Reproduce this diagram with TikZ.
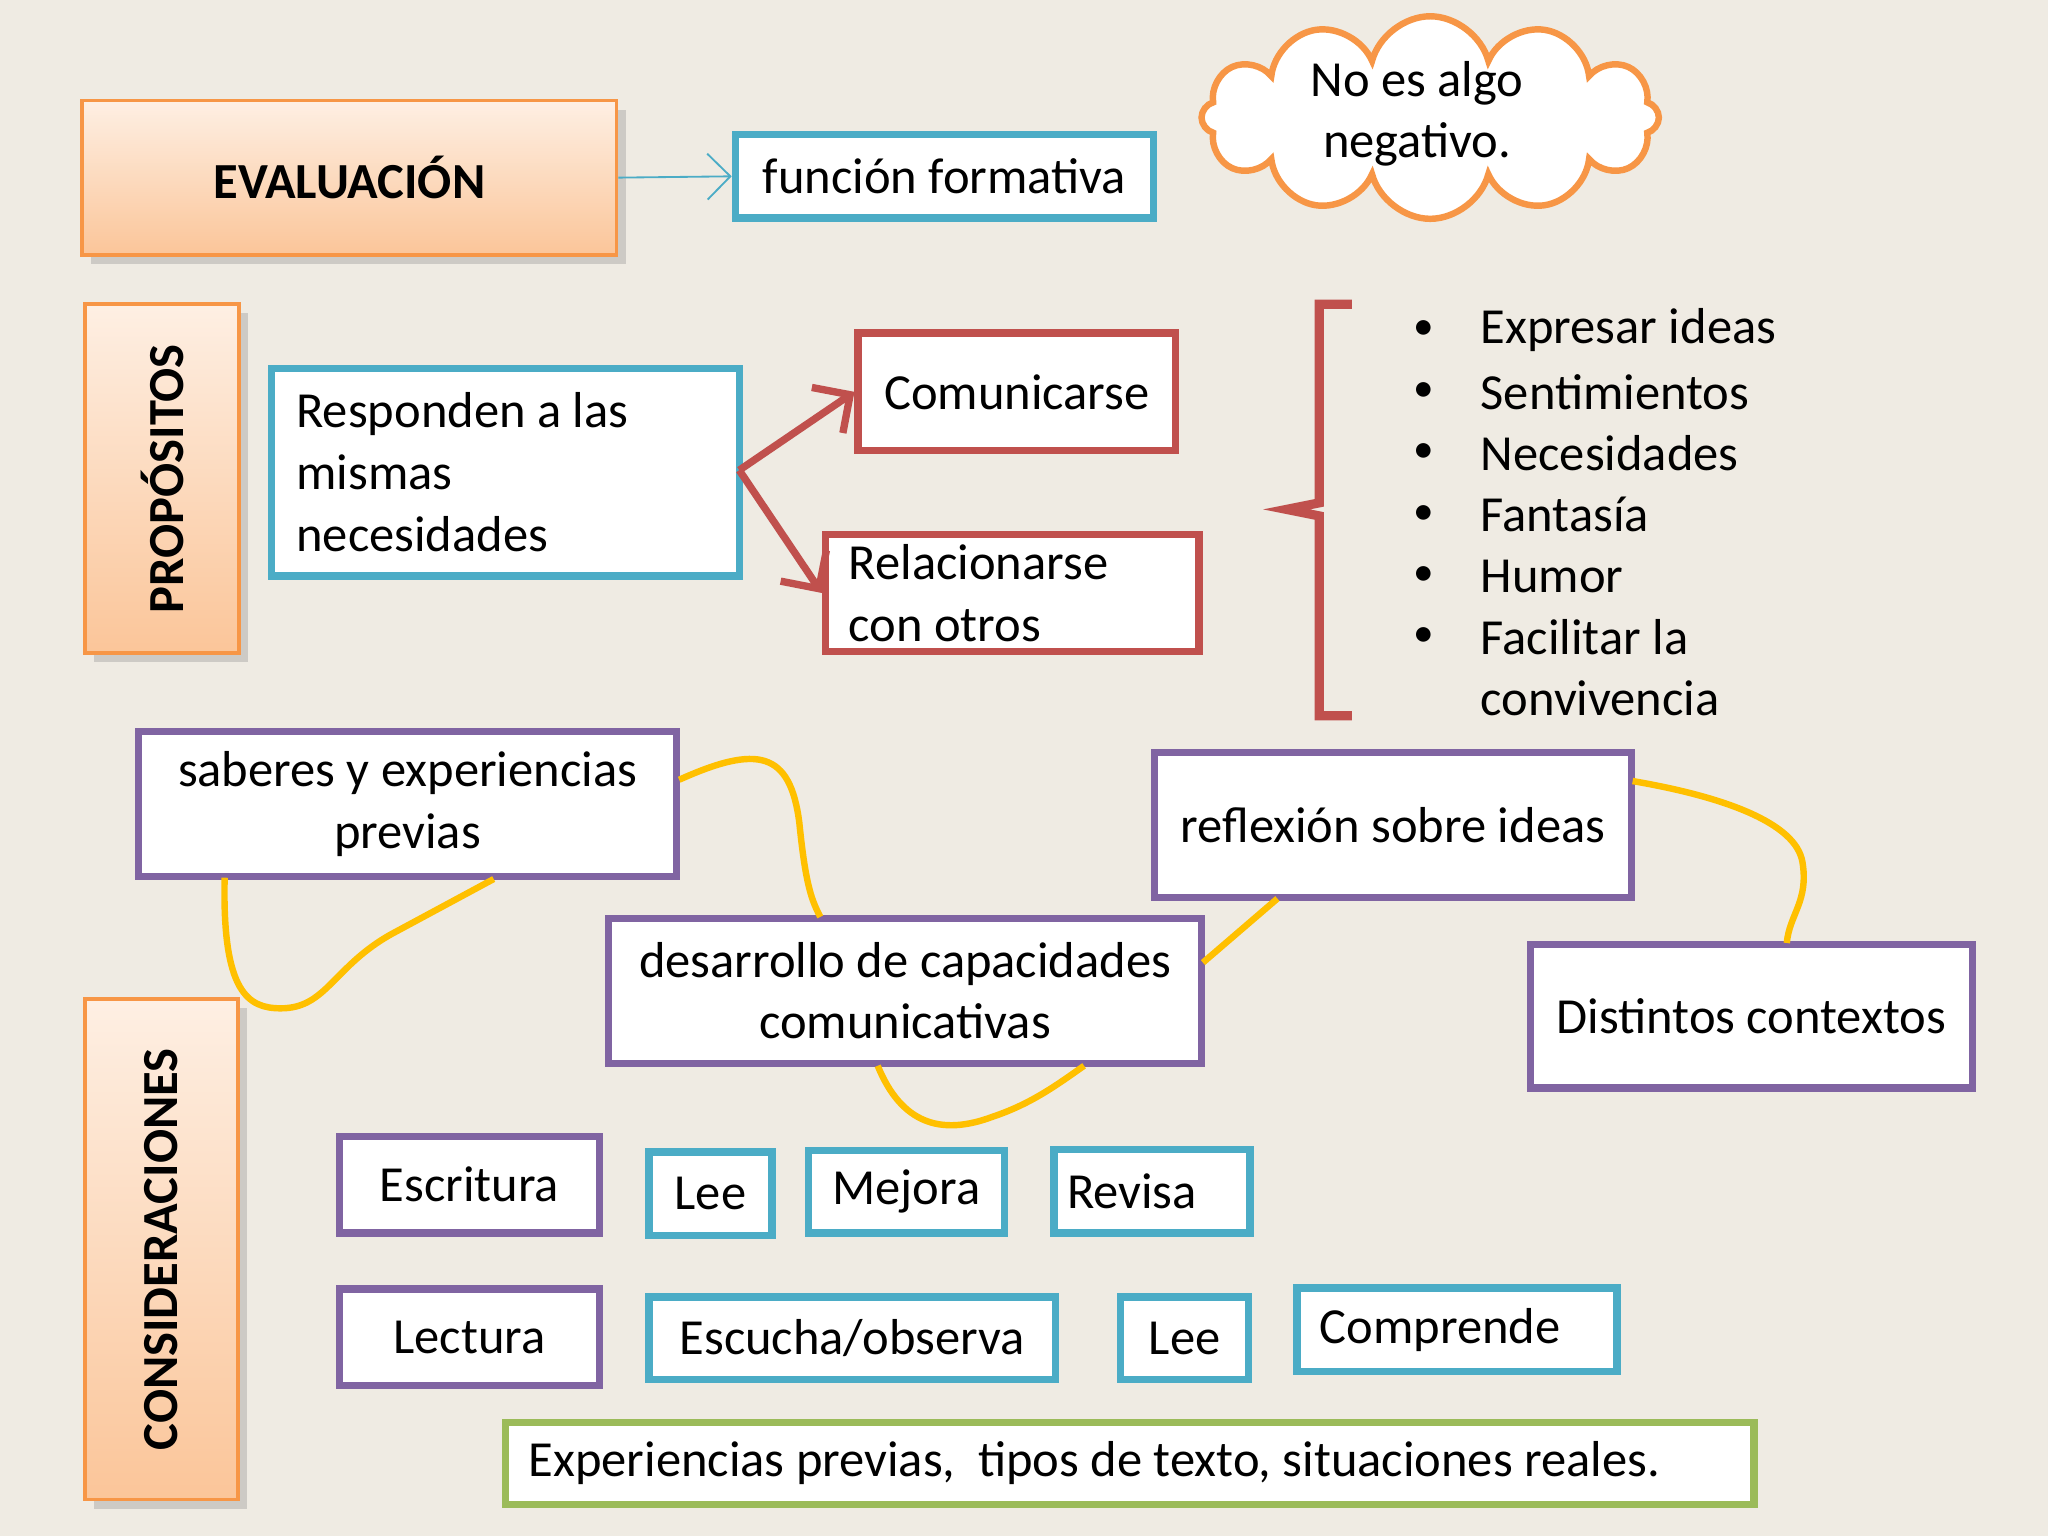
\documentclass[tikz,border=0pt]{standalone}
\usepackage{fontspec}
\setmainfont{Carlito}
\usetikzlibrary{shapes.symbols,shadows,arrows.meta}
\definecolor{bg}{HTML}{EFEBE3}
\definecolor{cy}{HTML}{4BACC6}
\definecolor{rd}{HTML}{C0504D}
\definecolor{pu}{HTML}{8064A2}
\definecolor{gr}{HTML}{9BBB59}
\definecolor{og}{HTML}{F79646}
\definecolor{yl}{HTML}{FFC000}
\begin{document}
\begin{tikzpicture}[x=0.01cm,y=-0.01cm,
  bx/.style={draw,line width=1.6pt,fill=white,inner sep=0pt,font=\fontsize{11}{13.4}\selectfont},
  ob/.style={draw=og,line width=0.8pt,top color=og!15,bottom color=og!55,drop shadow={opacity=0.3,shadow xshift=2pt,shadow yshift=-2pt},inner sep=0pt,font=\bfseries\fontsize{11}{13}\selectfont},
  yc/.style={draw=yl,line width=1.4pt}]
\fill[bg] (0,0) rectangle (1568,1176);
\useasboundingbox (0,0) rectangle (1568,1176);
\newcommand\bxat[5]{\node[bx,draw=#5,minimum width={(#3-#1)*0.01cm},minimum height={(#4-#2)*0.01cm}] at ({(#1+#3)/2},{(#2+#4)/2})}
\node[ob,minimum width=4.09cm,minimum height=1.18cm] (eval) at (267.5,136) {EVALUACIÓN};
\bxat{563}{103}{883}{167}{cy} (ff) {función formativa};
\draw[cy,-{Straight Barb[length=5pt]}] (eval.east) -- (ff.west);
\node[cloud,draw=og,line width=1.4pt,fill=white,cloud puffs=12,aspect=2.3,inner sep=-4pt,minimum width=3.5cm,minimum height=1.55cm,font=\fontsize{11}{13.4}\selectfont] (cl) at (1095,90) {};
\node[align=center,font=\fontsize{11}{13.4}\selectfont] (clt) at (1085,87) {No es algo\\negativo.};
\node[ob,minimum width=1.18cm,minimum height=2.67cm] (prop) at (124,366.5) {};
\node[rotate=90,font=\bfseries\fontsize{11}{13}\selectfont] (propt) at (124,366.5) {PROPÓSITOS};
\bxat{208}{282}{566}{441}{cy} (resp) {\parbox{3.2cm}{Responden a las\\mismas\\necesidades}};
\bxat{657}{255}{900}{345}{rd} (com) {Comunicarse};
\bxat{632}{409}{918}{499}{rd} (rel) {\parbox{2.5cm}{Relacionarse\\con otros}};
\coordinate (rp) at (566,360);
\draw[rd,line width=1.6pt,-{Straight Barb[length=6pt]}] (rp) -- (com.west);
\draw[rd,line width=1.6pt,-{Straight Barb[length=6pt]}] (rp) -- (rel.west);
\draw[rd,line width=2pt] (1035,233) -- (1010,233) -- (1010,385) -- (985,390) -- (1010,395) -- (1010,548) -- (1035,548);
\foreach \t [count=\i] in {Expresar ideas,Sentimientos,Necesidades,Fantasía,Humor,Facilitar la,convivencia}{
  \node[anchor=west,inner sep=0pt,font=\fontsize{11}{13}\selectfont] (l\i) at (1133,{253+47*(\i-1)}) {\t};
  \ifnum\i<7 \node[inner sep=0pt,font=\fontsize{9}{11}\selectfont] (b\i) at (1090,{253+47*(\i-1)}) {•};\fi
}
\bxat{106}{560}{518}{671}{pu} (sab) {\parbox{4cm}{\centering saberes y experiencias\\previas}};
\bxat{884}{576}{1249}{687}{pu} (ref) {reflexión sobre ideas};
\bxat{466}{703}{920}{814}{pu} (des) {\parbox{4.4cm}{\centering desarrollo de capacidades\\comunicativas}};
\bxat{1172}{723}{1510}{833}{pu} (dis) {Distintos contextos};
\node[ob,minimum width=1.17cm,minimum height=3.83cm] (cons) at (123.5,956.5) {};
\node[rotate=90,font=\bfseries\fontsize{11}{13}\selectfont] (const) at (123.5,956.5) {CONSIDERACIONES};
\bxat{260}{870}{459}{944}{pu} (esc) {Escritura};
\bxat{497}{882}{591}{946}{cy} (lee1) {Lee};
\bxat{619}{881}{769}{944}{cy} (mej) {Mejora};
\bxat{807}{880}{957}{944}{cy} (rev) {\parbox{1.3cm}{Revisa}};
\bxat{260}{987}{459}{1061}{pu} (lec) {Lectura};
\bxat{497}{993}{808}{1056}{cy} (eo) {Escucha/observa};
\bxat{858}{993}{956}{1056}{cy} (lee2) {Lee};
\bxat{993}{986}{1238}{1050}{cy} (cmp) {\parbox{2.1cm}{Comprende}};
\bxat{387}{1089}{1343}{1152}{gr} (exp) {\parbox{9.2cm}{Experiencias previas,\ \ tipos de texto, situaciones reales.}};
% yellow connectors
\draw[yc] (520,597) .. controls (580,570) and (605,575) .. (612,630) .. controls (617,680) and (622,690) .. (628,702);
\draw[yc] (172,672) .. controls (170,760) and (190,772) .. (215,772) .. controls (250,772) and (255,740) .. (300,715) -- (378,673);
\draw[yc] (672,816) .. controls (690,860) and (720,870) .. (760,855) .. controls (790,845) and (810,830) .. (830,816);
\draw[yc] (921,737) -- (978,688);
\draw[yc] (1250,598) .. controls (1320,610) and (1375,630) .. (1380,660) .. controls (1385,690) and (1370,700) .. (1368,722);
\end{tikzpicture}
\end{document}
